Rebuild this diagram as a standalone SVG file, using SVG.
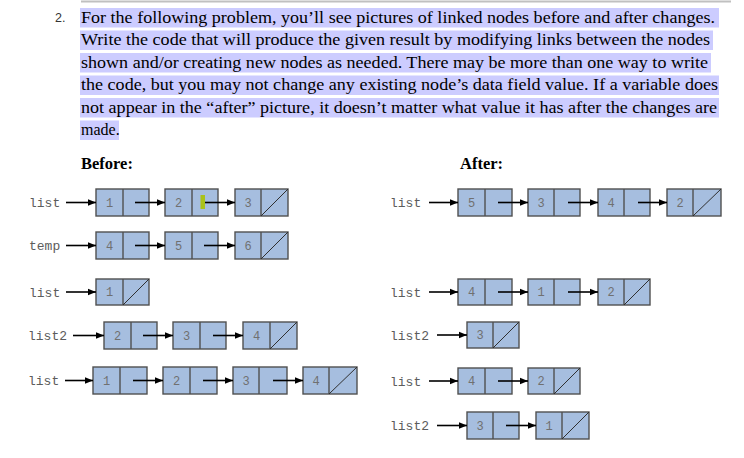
<svg xmlns="http://www.w3.org/2000/svg" width="744" height="458" viewBox="0 0 744 458">
<defs>
<style>
.hl{fill:#ccccff}
.p{font-family:"Liberation Serif","Times New Roman",serif;font-size:16px;fill:#000}
.num{font-family:"Liberation Sans",Arial,sans-serif;font-size:12.5px;fill:#333}
.hd{font-family:"Liberation Serif","Times New Roman",serif;font-size:16.5px;font-weight:bold;fill:#000}
.lb{font-family:"Liberation Mono","Courier New",monospace;font-size:13px;fill:#5c5c5c}
.nd{fill:#a6bedf;stroke:#505050;stroke-width:1.4}
.dv{stroke:#505050;stroke-width:1.4}
.nl{stroke:#303030;stroke-width:1}
.v{font-family:"Liberation Mono","Courier New",monospace;font-size:12px;fill:#707070;text-anchor:middle}
.ar{stroke:#000;stroke-width:1.6;fill:none;marker-end:url(#ah)}
</style>
<marker id="ah" viewBox="0 0 8 8" refX="8" refY="4" markerWidth="8" markerHeight="8" markerUnits="userSpaceOnUse" orient="auto">
<path d="M0,0.8 L8,4 L0,7.2 z" fill="#000"/>
</marker>
</defs>
<rect x="0" y="0" width="744" height="458" fill="#fff"/>
<line x1="81" y1="1.5" x2="731" y2="1.5" stroke="#c0c0c0" stroke-width="2"/>

<g id="paragraph">
<rect class="hl" x="80" y="8" width="639" height="19.5"/>
<rect class="hl" x="80" y="30.5" width="633" height="19.5"/>
<rect class="hl" x="80" y="53" width="631" height="19.5"/>
<rect class="hl" x="80" y="75.5" width="639" height="19.5"/>
<rect class="hl" x="80" y="98" width="639" height="19.5"/>
<rect class="hl" x="80" y="120.5" width="39" height="19.5"/>
<text class="num" x="55" y="22">2.</text>
<text class="p" x="81" y="22.5" textLength="634" lengthAdjust="spacingAndGlyphs">For the following problem, you’ll see pictures of linked nodes before and after changes.</text>
<text class="p" x="81" y="45" textLength="629" lengthAdjust="spacingAndGlyphs">Write the code that will produce the given result by modifying links between the nodes</text>
<text class="p" x="81" y="67.5" textLength="627" lengthAdjust="spacingAndGlyphs">shown and/or creating new nodes as needed. There may be more than one way to write</text>
<text class="p" x="81" y="90" textLength="637" lengthAdjust="spacingAndGlyphs">the code, but you may not change any existing node’s data field value. If a variable does</text>
<text class="p" x="81" y="112.5" textLength="636" lengthAdjust="spacingAndGlyphs">not appear in the “after” picture, it doesn’t matter what value it has after the changes are</text>
<text class="p" x="81" y="135">made.</text>
</g>

<text class="hd" x="81" y="168.5">Before:</text>
<text class="hd" x="460" y="168.5">After:</text>

<g id="labels">
<text class="lb" x="29" y="207">list</text>
<text class="lb" x="29" y="250">temp</text>
<text class="lb" x="29" y="296.5">list</text>
<text class="lb" x="28" y="340">list2</text>
<text class="lb" x="28" y="385">list</text>
<text class="lb" x="390" y="207">list</text>
<text class="lb" x="390" y="296.5">list</text>
<text class="lb" x="390" y="340">list2</text>
<text class="lb" x="390" y="385.5">list</text>
<text class="lb" x="390" y="430">list2</text>
</g>

<!-- Before row 1 -->
<g id="b1n1"><rect class="nd" x="96" y="189" width="53" height="27"/><line class="dv" x1="123" y1="189" x2="123" y2="216"/><text class="v" x="109.5" y="206.5">1</text></g>
<g id="b1n2"><rect class="nd" x="165" y="189" width="53" height="27"/><line class="dv" x1="192" y1="189" x2="192" y2="216"/><text class="v" x="178.5" y="206.5">2</text><rect x="200.5" y="195" width="4.5" height="14" fill="#aac21a"/></g>
<g id="b1n3"><rect class="nd" x="235" y="189" width="53" height="27"/><line class="dv" x1="261" y1="189" x2="261" y2="216"/><text class="v" x="248" y="206.5">3</text><line class="nl" x1="261" y1="216" x2="288" y2="189"/></g>
<!-- Before row 2 -->
<g id="b2n1"><rect class="nd" x="96" y="232" width="53" height="27"/><line class="dv" x1="123" y1="232" x2="123" y2="259"/><text class="v" x="109.5" y="249.5">4</text></g>
<g id="b2n2"><rect class="nd" x="165" y="232" width="53" height="27"/><line class="dv" x1="192" y1="232" x2="192" y2="259"/><text class="v" x="178.5" y="249.5">5</text></g>
<g id="b2n3"><rect class="nd" x="235" y="232" width="53" height="27"/><line class="dv" x1="261" y1="232" x2="261" y2="259"/><text class="v" x="248" y="249.5">6</text><line class="nl" x1="261" y1="259" x2="288" y2="232"/></g>
<!-- Before row 3 -->
<g id="b3n1"><rect class="nd" x="96" y="279" width="53" height="26"/><line class="dv" x1="123" y1="279" x2="123" y2="305"/><text class="v" x="109.5" y="296">1</text><line class="nl" x1="123" y1="305" x2="149" y2="279"/></g>
<!-- Before row 4 -->
<g id="b4n1"><rect class="nd" x="104" y="322" width="53" height="27"/><line class="dv" x1="131" y1="322" x2="131" y2="349"/><text class="v" x="117.5" y="339.5">2</text></g>
<g id="b4n2"><rect class="nd" x="173" y="322" width="53" height="27"/><line class="dv" x1="200" y1="322" x2="200" y2="349"/><text class="v" x="186.5" y="339.5">3</text></g>
<g id="b4n3"><rect class="nd" x="243" y="322" width="54" height="27"/><line class="dv" x1="270" y1="322" x2="270" y2="349"/><text class="v" x="256.5" y="339.5">4</text><line class="nl" x1="270" y1="349" x2="297" y2="322"/></g>
<!-- Before row 5 -->
<g id="b5n1"><rect class="nd" x="93" y="367" width="54" height="27"/><line class="dv" x1="120" y1="367" x2="120" y2="394"/><text class="v" x="106.5" y="384.5">1</text></g>
<g id="b5n2"><rect class="nd" x="163" y="367" width="54" height="27"/><line class="dv" x1="190" y1="367" x2="190" y2="394"/><text class="v" x="176.5" y="384.5">2</text></g>
<g id="b5n3"><rect class="nd" x="233" y="367" width="54" height="27"/><line class="dv" x1="259" y1="367" x2="259" y2="394"/><text class="v" x="246" y="384.5">3</text></g>
<g id="b5n4"><rect class="nd" x="303" y="367" width="54" height="27"/><line class="dv" x1="329" y1="367" x2="329" y2="394"/><text class="v" x="316" y="384.5">4</text><line class="nl" x1="329" y1="394" x2="357" y2="367"/></g>

<!-- After row 1 -->
<g id="a1n1"><rect class="nd" x="458" y="189" width="54" height="27"/><line class="dv" x1="485" y1="189" x2="485" y2="216"/><text class="v" x="471.5" y="206.5">5</text></g>
<g id="a1n2"><rect class="nd" x="528" y="189" width="52" height="27"/><line class="dv" x1="554" y1="189" x2="554" y2="216"/><text class="v" x="541" y="206.5">3</text></g>
<g id="a1n3"><rect class="nd" x="598" y="189" width="52" height="27"/><line class="dv" x1="624" y1="189" x2="624" y2="216"/><text class="v" x="611" y="206.5">4</text></g>
<g id="a1n4"><rect class="nd" x="667" y="189" width="54" height="27"/><line class="dv" x1="693" y1="189" x2="693" y2="216"/><text class="v" x="680" y="206.5">2</text><line class="nl" x1="693" y1="216" x2="721" y2="189"/></g>
<!-- After row 2 -->
<g id="a2n1"><rect class="nd" x="458" y="279" width="54" height="26"/><line class="dv" x1="485" y1="279" x2="485" y2="305"/><text class="v" x="471.5" y="296">4</text></g>
<g id="a2n2"><rect class="nd" x="528" y="279" width="52" height="26"/><line class="dv" x1="554" y1="279" x2="554" y2="305"/><text class="v" x="541" y="296">1</text></g>
<g id="a2n3"><rect class="nd" x="598" y="279" width="52" height="26"/><line class="dv" x1="624" y1="279" x2="624" y2="305"/><text class="v" x="611" y="296">2</text><line class="nl" x1="624" y1="305" x2="650" y2="279"/></g>
<!-- After row 3 -->
<g id="a3n1"><rect class="nd" x="467" y="322" width="52" height="26"/><line class="dv" x1="493" y1="322" x2="493" y2="348"/><text class="v" x="480" y="339">3</text><line class="nl" x1="493" y1="348" x2="519" y2="322"/></g>
<!-- After row 4 -->
<g id="a4n1"><rect class="nd" x="458" y="368" width="54" height="26"/><line class="dv" x1="485" y1="368" x2="485" y2="394"/><text class="v" x="471.5" y="385">4</text></g>
<g id="a4n2"><rect class="nd" x="528" y="368" width="52" height="26"/><line class="dv" x1="554" y1="368" x2="554" y2="394"/><text class="v" x="541" y="385">2</text><line class="nl" x1="554" y1="394" x2="580" y2="368"/></g>
<!-- After row 5 -->
<g id="a5n1"><rect class="nd" x="467" y="412" width="52" height="27"/><line class="dv" x1="493" y1="412" x2="493" y2="439"/><text class="v" x="480" y="429.5">3</text></g>
<g id="a5n2"><rect class="nd" x="536" y="412" width="53" height="27"/><line class="dv" x1="562" y1="412" x2="562" y2="439"/><text class="v" x="549" y="429.5">1</text><line class="nl" x1="562" y1="439" x2="589" y2="412"/></g>

<g id="connectors">
<line class="ar" x1="66" y1="202.5" x2="96" y2="202.5"/>
<line class="ar" x1="135" y1="202.5" x2="165" y2="202.5"/>
<line class="ar" x1="205" y1="202.5" x2="235" y2="202.5"/>
<line class="ar" x1="66" y1="245.5" x2="96" y2="245.5"/>
<line class="ar" x1="135" y1="245.5" x2="165" y2="245.5"/>
<line class="ar" x1="204" y1="245.5" x2="235" y2="245.5"/>
<line class="ar" x1="66" y1="292" x2="96" y2="292"/>
<line class="ar" x1="73" y1="335.5" x2="104" y2="335.5"/>
<line class="ar" x1="143" y1="335.5" x2="173" y2="335.5"/>
<line class="ar" x1="213" y1="335.5" x2="243" y2="335.5"/>
<line class="ar" x1="65" y1="380.5" x2="93" y2="380.5"/>
<line class="ar" x1="133" y1="380.5" x2="163" y2="380.5"/>
<line class="ar" x1="203" y1="380.5" x2="233" y2="380.5"/>
<line class="ar" x1="273" y1="380.5" x2="303" y2="380.5"/>
<line class="ar" x1="429" y1="202.5" x2="458" y2="202.5"/>
<line class="ar" x1="498" y1="202.5" x2="528" y2="202.5"/>
<line class="ar" x1="568" y1="202.5" x2="598" y2="202.5"/>
<line class="ar" x1="638" y1="202.5" x2="667" y2="202.5"/>
<line class="ar" x1="429" y1="292" x2="458" y2="292"/>
<line class="ar" x1="498" y1="292" x2="528" y2="292"/>
<line class="ar" x1="568" y1="292" x2="598" y2="292"/>
<line class="ar" x1="437" y1="335" x2="467" y2="335"/>
<line class="ar" x1="429" y1="381" x2="458" y2="381"/>
<line class="ar" x1="498" y1="381" x2="528" y2="381"/>
<line class="ar" x1="437" y1="425.5" x2="467" y2="425.5"/>
<line class="ar" x1="506" y1="425.5" x2="536" y2="425.5"/>
</g>
</svg>
